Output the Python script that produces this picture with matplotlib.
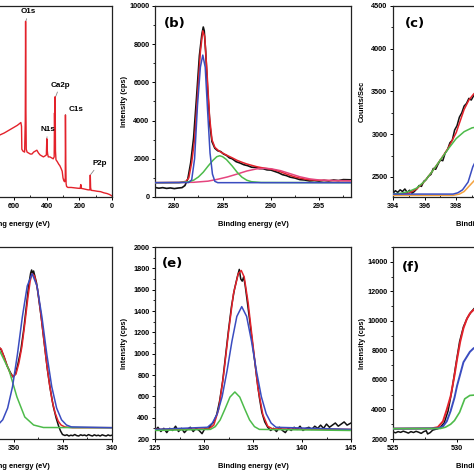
import matplotlib
matplotlib.use("Agg")
import matplotlib.pyplot as plt
from matplotlib import font_manager
from matplotlib.ticker import MultipleLocator

names = {f.name for f in font_manager.fontManager.ttflist}
NARROW = 'Liberation Sans Narrow' if 'Liberation Sans Narrow' in names else 'Liberation Sans'

# ---------------- data ----------------
# (a) survey: binding energy (eV), intensity (relative units)
a_survey = [(1200, 20), (1100, 22), (1000, 25), (900, 27), (800, 30), (700, 32), (686, 32.5),
            (660, 33.5), (640, 34.5), (620, 35.5), (600, 36.5), (580, 37.5), (565, 38.5),
            (558, 39), (554, 37), (552, 25), (545, 24), (535, 23.5), (531, 40), (529, 92),
            (527, 45), (525, 25), (520, 23.5), (510, 23), (500, 22.5), (490, 22.5), (480, 23.5),
            (470, 24), (460, 24.5), (450, 23), (440, 22), (430, 21.5), (420, 21), (410, 21.5),
            (402, 22), (399, 30.5), (397, 25), (394, 22.5), (390, 21), (380, 21), (370, 20.5),
            (360, 20), (354, 21), (352, 44), (350, 30), (348, 52.5), (346, 24), (343, 19.5),
            (335, 18.5), (325, 17), (320, 16.5), (312, 15), (305, 13.5), (300, 10), (295, 8.5),
            (290, 8), (286, 10), (285, 43), (283, 18), (281, 7), (278, 5.5), (270, 5),
            (250, 5), (230, 4.8), (210, 4.6), (195, 4.5), (191, 6.5), (187, 4.5), (175, 4.3),
            (160, 4), (150, 3.8), (140, 3.7), (135, 3.8), (133, 11.5), (131, 5), (128, 3.5),
            (110, 3.3), (90, 3), (70, 2.8), (50, 2.2), (30, 1.8), (15, 1.3), (5, 0.8), (0, 0.5)]
a_labels = ['O1s', 'Ca2p', 'N1s', 'C1s', 'P2p']
a_label_xy = [(527, 92), (345, 52.5), (399, 30.5), (285, 43), (133, 11.5)]
a_label_text_xy = [(512, 97), (318, 58.6), (393, 35.2), (222, 45.9), (78, 17.6)]

# (b) C1s
b_black = [(278.0, 500), (278.4, 460), (278.8, 490), (279.2, 450), (279.6, 475), (280.0, 440),
           (280.4, 470), (280.8, 490), (281.1, 600), (281.4, 950), (281.7, 1800), (282.0, 3100),
           (282.3, 5200), (282.6, 7400), (282.85, 8500), (283.0, 8900), (283.1, 8700),
           (283.25, 7600), (283.45, 5600), (283.7, 3700), (283.9, 2900), (284.2, 2550),
           (284.5, 2420), (284.8, 2380), (285.1, 2250), (285.4, 2180), (285.7, 2050),
           (286.0, 2000), (286.4, 1850), (286.8, 1780), (287.2, 1690), (287.6, 1640),
           (288.0, 1560), (288.4, 1550), (288.8, 1490), (289.2, 1480), (289.6, 1420),
           (290.0, 1410), (290.4, 1340), (290.8, 1270), (291.2, 1170), (291.6, 1120),
           (292.0, 1040), (292.5, 990), (293.0, 910), (293.5, 890), (294.0, 840), (294.5, 860),
           (295.0, 830), (295.5, 870), (296.0, 840), (296.5, 890), (297.0, 860), (297.5, 910),
           (298.3, 900)]
b_red = [(278, 750), (280.5, 755), (281.2, 820), (281.5, 1000), (281.8, 1800), (282.1, 3000),
         (282.4, 5300), (282.7, 7600), (282.95, 8700), (283.15, 8400), (283.4, 6400),
         (283.65, 4200), (283.9, 3000), (284.2, 2600), (284.6, 2420), (285.0, 2300),
         (285.5, 2170), (286, 2050), (286.5, 1920), (287, 1820), (287.5, 1730), (288, 1660),
         (288.5, 1590), (289, 1540), (289.5, 1500), (290, 1460), (290.5, 1400), (291, 1320),
         (291.5, 1220), (292, 1130), (292.5, 1050), (293, 990), (293.5, 940), (294, 900),
         (295, 870), (296.5, 855), (298.3, 850)]
b_blue = [(278, 750), (281.5, 760), (281.8, 900), (282.1, 2000), (282.4, 4800), (282.7, 6800),
          (282.95, 7430), (283.2, 6800), (283.45, 4500), (283.7, 2300), (283.95, 1200),
          (284.2, 820), (284.5, 750), (298.3, 750)]
b_green = [(278, 750), (280.5, 755), (281.5, 800), (282.0, 880), (282.5, 1050), (283.0, 1300),
           (283.5, 1620), (284.0, 1920), (284.4, 2110), (284.7, 2160), (285.0, 2110),
           (285.4, 1960), (286.0, 1620), (286.5, 1300), (287.0, 1040), (287.5, 880),
           (288.0, 800), (289.0, 760), (298.3, 750)]
b_magenta = [(278, 750), (282, 770), (283.5, 830), (284.5, 930), (285.5, 1050), (286.5, 1200),
             (287.5, 1360), (288.5, 1470), (289.3, 1500), (290, 1480), (291, 1380),
             (292, 1220), (293, 1060), (294, 950), (295, 890), (296.5, 860), (298.3, 850)]

# (c) N1s
c_black = [(394.0, 2310), (394.15, 2340), (394.3, 2320), (394.45, 2350), (394.6, 2330),
           (394.75, 2360), (394.9, 2320), (395.05, 2345), (395.2, 2310), (395.35, 2330),
           (395.5, 2360), (395.65, 2400), (395.8, 2390), (395.95, 2450), (396.1, 2470),
           (396.25, 2510), (396.4, 2530), (396.55, 2600), (396.7, 2590), (396.85, 2650),
           (397.0, 2700), (397.15, 2690), (397.3, 2780), (397.45, 2820), (397.6, 2900),
           (397.75, 2930), (397.9, 3050), (398.05, 3100), (398.2, 3200), (398.35, 3250),
           (398.5, 3330), (398.65, 3360), (398.8, 3420), (398.95, 3400), (399.1, 3450),
           (399.3, 3480), (399.6, 3500), (400, 3450), (400.5, 3300), (401, 3050), (401.5, 2800),
           (402, 2600), (403, 2400), (404, 2330), (405, 2300), (406.4, 2300)]
c_red = [(394, 2300), (395, 2310), (395.5, 2360), (396, 2450), (396.5, 2570), (397, 2700),
         (397.5, 2840), (398, 3020), (398.5, 3290), (398.8, 3400), (399.1, 3470), (399.5, 3540),
         (400, 3520), (400.5, 3400), (401, 3200), (401.5, 2950), (402, 2730), (402.5, 2560),
         (403, 2450), (404, 2350), (405, 2310), (406.4, 2300)]
c_green = [(394, 2300), (394.5, 2310), (395, 2330), (395.5, 2370), (396, 2450), (396.5, 2570),
           (397, 2700), (397.5, 2830), (398, 2950), (398.5, 3030), (399, 3075), (399.5, 3090),
           (400, 3080), (400.5, 3030), (401, 2950), (401.5, 2840), (402, 2720), (402.5, 2600),
           (403, 2500), (403.5, 2420), (404, 2370), (405, 2320), (406.4, 2300)]
c_blue = [(394, 2300), (397.8, 2300), (398.1, 2315), (398.4, 2350), (398.75, 2440),
          (399.05, 2620), (399.4, 2750), (399.8, 2780), (400.2, 2720), (400.6, 2580),
          (401, 2440), (401.5, 2340), (402, 2305), (406.4, 2300)]
c_orange = [(394, 2285), (397.8, 2285), (398.2, 2300), (398.5, 2330), (398.8, 2390),
            (399.1, 2450), (399.5, 2530), (400, 2600), (400.5, 2620), (401, 2580), (401.5, 2480),
            (402, 2380), (402.5, 2310), (403, 2290), (406.4, 2285)]

# (d) Ca2p (intensity scale not visible)
d_black = [(360, 1100), (356, 1300), (355, 2400), (354, 4100), (353, 6900), (352.3, 8600),
           (351.9, 9200), (351.6, 9300), (351.3, 8900), (351.0, 8200), (350.7, 7300),
           (350.4, 6700), (350.1, 6200), (349.85, 6500), (349.6, 7500), (349.3, 8900),
           (349.0, 11000), (348.7, 13600), (348.5, 15400), (348.3, 16600), (348.2, 16900),
           (348.1, 16500), (348.0, 16800), (347.9, 16400), (347.7, 15600), (347.5, 14200),
           (347.2, 12000), (346.9, 9500), (346.6, 7000), (346.3, 5000), (346.0, 3300),
           (345.7, 2100), (345.45, 1300), (345.25, 800), (345.05, 450), (344.8, 350),
           (344.6, 420), (344.4, 300), (344.2, 380), (344.0, 330), (343.8, 450), (343.6, 340),
           (343.4, 300), (343.2, 420), (343.0, 350), (342.8, 400), (342.6, 310), (342.4, 440),
           (342.2, 360), (342.0, 300), (341.8, 420), (341.6, 330), (341.4, 380), (341.2, 300),
           (341.0, 420), (340.8, 350), (340.6, 300), (340.4, 410), (340.2, 330), (340.0, 380)]
d_red = [(360, 1200), (357, 1400), (355, 2500), (354, 4200), (353, 6800), (352.3, 8500),
         (351.8, 9300), (351.3, 9000), (350.8, 7600), (350.4, 6600), (350.1, 6250),
         (349.8, 6500), (349.5, 7600), (349.2, 9200), (348.9, 11500), (348.6, 14000),
         (348.35, 15800), (348.15, 16550), (347.9, 16300), (347.6, 15000), (347.3, 12800),
         (347.0, 10300), (346.7, 7800), (346.4, 5600), (346.1, 3800), (345.8, 2600),
         (345.5, 1800), (345.2, 1400), (344.8, 1200), (344, 1130), (340, 1130)]
d_blue = [(360, 1130), (352.15, 1210), (351.65, 1400), (351.15, 1920), (350.65, 3090),
          (350.15, 5240), (349.65, 8460), (349.15, 12200), (348.65, 15300), (348.15, 16530),
          (347.65, 15300), (347.15, 12200), (346.65, 8460), (346.15, 5240), (345.65, 3090),
          (345.15, 1920), (344.65, 1400), (344.15, 1210), (340, 1130)]
d_green = [(360, 1130), (356, 1250), (355, 1700), (354.5, 2400), (354, 3600), (353.5, 5200),
           (353, 6900), (352.5, 8300), (352, 9100), (351.7, 9200), (351.4, 8700),
           (350.5, 6870), (349.7, 4200), (348.9, 2200), (348.0, 1400), (347, 1150), (340, 1130)]

# (e) P2p
e_black = [(125.0, 280), (125.3, 310), (125.6, 270), (125.9, 300), (126.2, 260), (126.5, 300),
           (126.8, 280), (127.1, 320), (127.4, 270), (127.7, 300), (128.0, 260), (128.3, 290),
           (128.6, 310), (128.9, 270), (129.2, 300), (129.5, 280), (129.8, 250), (130.1, 300),
           (130.4, 290), (130.7, 330), (131.0, 360), (131.3, 430), (131.6, 560), (131.9, 740),
           (132.2, 980), (132.5, 1220), (132.8, 1440), (133.1, 1600), (133.4, 1720),
           (133.6, 1790), (133.75, 1700), (133.9, 1680), (134.05, 1720), (134.2, 1640),
           (134.4, 1500), (134.65, 1320), (134.9, 1130), (135.15, 950), (135.4, 760),
           (135.65, 590), (135.9, 450), (136.2, 360), (136.5, 310), (136.8, 280), (137.1, 300),
           (137.4, 270), (137.7, 310), (138.0, 280), (138.3, 260), (138.6, 300), (138.9, 280),
           (139.2, 310), (139.5, 290), (139.8, 320), (140.1, 280), (140.4, 300), (140.7, 310),
           (141.0, 290), (141.3, 320), (141.6, 300), (141.9, 330), (142.2, 300), (142.5, 340),
           (142.8, 310), (143.1, 330), (143.4, 350), (143.7, 320), (144.0, 340), (144.3, 360),
           (144.6, 330), (145.0, 350)]
e_red = [(125, 290), (130.5, 295), (131, 330), (131.5, 480), (132, 800), (132.5, 1200),
         (133, 1560), (133.5, 1750), (133.8, 1780), (134.1, 1720), (134.5, 1480), (135, 1080),
         (135.5, 680), (136, 430), (136.5, 320), (137, 295), (145, 290)]
e_blue = [(125, 290), (130.35, 310), (130.85, 349), (131.35, 436), (131.85, 597), (132.35, 838),
          (132.85, 1116), (133.35, 1349), (133.85, 1441), (134.35, 1349), (134.85, 1116),
          (135.35, 838), (135.85, 597), (136.35, 436), (136.85, 349), (137.35, 310), (145, 290)]
e_green = [(125, 280), (130.65, 290), (131.15, 316), (131.65, 379), (132.15, 483), (132.65, 593),
           (133.15, 641), (133.65, 593), (134.15, 483), (134.65, 379), (135.15, 316),
           (135.65, 290), (145, 280)]

# (f) O1s
f_black = [(525.0, 2480), (525.2, 2420), (525.4, 2500), (525.6, 2450), (525.8, 2530),
           (526.0, 2470), (526.2, 2400), (526.4, 2500), (526.6, 2440), (526.8, 2520),
           (527.0, 2460), (527.2, 2380), (527.4, 2500), (527.6, 2560), (527.7, 2340),
           (527.9, 2430), (528.1, 2600), (528.3, 2650), (528.5, 2700), (528.7, 2800),
           (529.0, 3100), (529.3, 3900), (529.6, 5300), (529.9, 7000), (530.2, 8600),
           (530.5, 9600), (530.8, 10200), (531.1, 10600), (531.4, 10900), (531.8, 11000),
           (532.2, 10800), (532.7, 9800), (533.2, 7800), (533.7, 5800), (534.2, 4200),
           (534.7, 3300), (535.2, 2900), (536, 2700), (537, 2650), (538, 2700), (540, 2650)]
f_red = [(525, 2700), (528, 2720), (528.5, 2800), (528.9, 3200), (529.2, 4000), (529.5, 4900),
         (529.8, 6300), (530.0, 7400), (530.25, 8600), (530.5, 9500), (530.75, 10100),
         (531.0, 10500), (531.3, 10750), (531.6, 10900), (532, 10800), (532.5, 10000),
         (533, 8200), (533.5, 6200), (534, 4500), (534.5, 3400), (535, 2900), (536, 2750),
         (540, 2700)]
f_blue = [(525, 2700), (528.5, 2720), (528.9, 2850), (529.2, 3200), (529.5, 3900),
          (529.8, 4800), (530.0, 5600), (530.5, 7200), (531.0, 7900), (531.3, 8150),
          (531.8, 8300), (532.2, 8100), (532.7, 7200), (533.2, 5800), (533.7, 4400),
          (534.2, 3500), (534.7, 2950), (535.5, 2750), (540, 2700)]
f_green = [(525, 2700), (528.7, 2710), (529.1, 2800), (529.5, 3000), (529.8, 3250),
           (530.2, 3810), (530.6, 4720), (531.0, 4950), (531.3, 4970), (531.8, 4900),
           (532.5, 4600), (533, 4000), (533.5, 3400), (534, 3000), (535, 2750), (540, 2700)]

# ---------------- styling ----------------
RED = '#e3222b'
BLACK = '#111111'
BLUE = '#3a4cc0'
GREEN = '#4dbb4a'
MAGENTA = '#e5457e'
ORANGE = '#f4a340'
TICKFONT = dict(family=NARROW, weight='bold', size=5.2)
LABELFONT = dict(family=NARROW, weight='bold', size=5.4)

fig = plt.figure(figsize=(4.74, 4.74), dpi=100)

W = 474.0
def frac_box(left_px, top_px, bottom_px, width_px=196):
    return [left_px / W, 1 - bottom_px / W, width_px / W, (bottom_px - top_px) / W]


def style(ax, xlim, ylim, xmaj, xmin, ymaj, ymin, ylabel=None, show_y=True):
    ax.set_xlim(*xlim)
    ax.set_ylim(*ylim)
    ax.xaxis.set_major_locator(MultipleLocator(xmaj))
    ax.xaxis.set_minor_locator(MultipleLocator(xmin))
    ax.yaxis.set_major_locator(MultipleLocator(ymaj))
    ax.yaxis.set_minor_locator(MultipleLocator(ymin))
    ax.tick_params(axis='both', which='major', direction='out', length=2.5, width=0.7, pad=1.5)
    ax.tick_params(axis='x', which='minor', direction='in', length=1.8, width=0.6)
    ax.tick_params(axis='y', which='minor', direction='out', length=1.5, width=0.6)
    for lab in ax.get_xticklabels() + ax.get_yticklabels():
        lab.set_fontproperties(font_manager.FontProperties(**TICKFONT))
    for s in ax.spines.values():
        s.set_linewidth(0.9)
        s.set_color('#222222')
    ax.set_xlabel('Binding energy (eV)', fontdict=LABELFONT)
    ax.xaxis.set_label_coords(0.5, -0.125)
    if not show_y:
        ax.tick_params(axis='y', labelleft=False)
    if ylabel:
        ax.set_ylabel(ylabel, fontdict=LABELFONT)
        ax.yaxis.set_label_coords(-0.138, 0.5)


def draw(ax, pts, color, lw=1.1, z=2):
    xs = [p[0] for p in pts]
    ys = [p[1] for p in pts]
    ax.plot(xs, ys, color=color, lw=lw, zorder=z, solid_joinstyle='round')


def panel_label(ax, text, x, y):
    ax.text(x, y, text, transform=ax.transAxes, fontsize=9.5, fontweight='bold',
            va='top', ha='left')


# (a)
ax_a = fig.add_axes(frac_box(-84, 6, 197))
draw(ax_a, a_survey, RED, lw=1.0)
style(ax_a, (1200, 0), (0, 100), 200, 100, 20, 10, show_y=False)
for lab, xy, txy in zip(a_labels, a_label_xy, a_label_text_xy):
    ax_a.annotate(lab, xy=xy, xytext=txy, ha='center', va='center',
                  fontsize=5.8, fontweight='bold', family=NARROW,
                  arrowprops=dict(arrowstyle='-', color='#888888', lw=0.6,
                                  shrinkA=0.5, shrinkB=0.5))

# (b)
ax_b = fig.add_axes(frac_box(155, 6, 197))
draw(ax_b, b_black, BLACK, 1.2, 2)
draw(ax_b, b_red, RED, 1.1, 3)
draw(ax_b, b_magenta, MAGENTA, 1.1, 3)
draw(ax_b, b_green, GREEN, 1.1, 4)
draw(ax_b, b_blue, BLUE, 1.1, 5)
style(ax_b, (278, 298.3), (0, 10000), 5, 2.5, 2000, 1000, ylabel='Intensity (cps)')
panel_label(ax_b, '(b)', 0.043, 0.94)

# (c)
ax_c = fig.add_axes(frac_box(393, 6, 197))
draw(ax_c, c_black, BLACK, 1.1, 2)
draw(ax_c, c_red, RED, 1.1, 3)
draw(ax_c, c_green, GREEN, 1.1, 4)
draw(ax_c, c_orange, ORANGE, 1.1, 4)
draw(ax_c, c_blue, BLUE, 1.1, 5)
style(ax_c, (394, 406.4), (2266, 4500), 2, 1, 500, 250, ylabel='Counts/Sec')
panel_label(ax_c, '(c)', 0.06, 0.94)

# (d)
ax_d = fig.add_axes(frac_box(-84, 247, 439))
draw(ax_d, d_black, BLACK, 1.1, 2)
draw(ax_d, d_red, RED, 1.1, 3)
draw(ax_d, d_green, GREEN, 1.1, 4)
draw(ax_d, d_blue, BLUE, 1.1, 5)
style(ax_d, (360, 340), (0, 19200), 5, 2.5, 4000, 2000, show_y=False)

# (e)
ax_e = fig.add_axes(frac_box(155, 247, 439))
draw(ax_e, e_black, BLACK, 1.1, 2)
draw(ax_e, e_red, RED, 1.1, 3)
draw(ax_e, e_blue, BLUE, 1.1, 4)
draw(ax_e, e_green, GREEN, 1.1, 5)
style(ax_e, (125, 145), (200, 2000), 5, 2.5, 200, 100, ylabel='Intensity (cps)')
panel_label(ax_e, '(e)', 0.034, 0.948)

# (f)
ax_f = fig.add_axes(frac_box(393, 247, 439))
draw(ax_f, f_black, BLACK, 1.1, 2)
draw(ax_f, f_red, RED, 1.4, 3)
draw(ax_f, f_blue, BLUE, 1.4, 4)
draw(ax_f, f_green, GREEN, 1.2, 5)
style(ax_f, (525, 540.3), (2000, 15000), 5, 2.5, 2000, 1000, ylabel='Intensity (cps)')
panel_label(ax_f, '(f)', 0.045, 0.925)

fig.savefig('out.png', dpi=100)
